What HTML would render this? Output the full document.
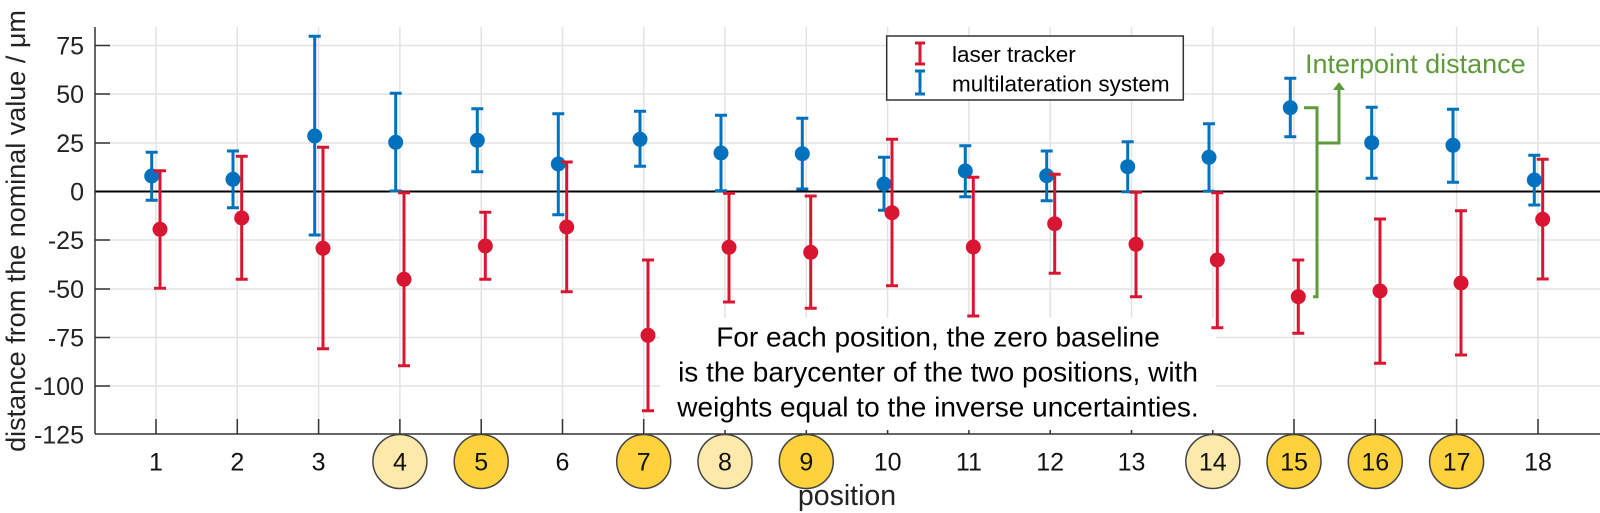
<!DOCTYPE html>
<html><head><meta charset="utf-8"><style>
html,body{margin:0;padding:0;background:#fff;}
svg{display:block;font-family:"Liberation Sans",Arial,sans-serif;}
</style></head><body>
<svg width="1600" height="513" viewBox="0 0 1600 513" xmlns="http://www.w3.org/2000/svg">
<g stroke="#e3e3e3" stroke-width="1.5">
<line x1="95" y1="45.5" x2="1600" y2="45.5"/><line x1="95" y1="94" x2="1600" y2="94"/><line x1="95" y1="143" x2="1600" y2="143"/><line x1="95" y1="240" x2="1600" y2="240"/><line x1="95" y1="289" x2="1600" y2="289"/><line x1="95" y1="337.5" x2="1600" y2="337.5"/><line x1="95" y1="386" x2="1600" y2="386"/>
<line x1="156" y1="27" x2="156" y2="434"/><line x1="237.3" y1="27" x2="237.3" y2="434"/><line x1="318.6" y1="27" x2="318.6" y2="434"/><line x1="399.9" y1="27" x2="399.9" y2="434"/><line x1="481.2" y1="27" x2="481.2" y2="434"/><line x1="562.5" y1="27" x2="562.5" y2="434"/><line x1="643.7" y1="27" x2="643.7" y2="434"/><line x1="725" y1="27" x2="725" y2="434"/><line x1="806.3" y1="27" x2="806.3" y2="434"/><line x1="887.6" y1="27" x2="887.6" y2="434"/><line x1="968.9" y1="27" x2="968.9" y2="434"/><line x1="1050.2" y1="27" x2="1050.2" y2="434"/><line x1="1131.5" y1="27" x2="1131.5" y2="434"/><line x1="1212.8" y1="27" x2="1212.8" y2="434"/><line x1="1294" y1="27" x2="1294" y2="434"/><line x1="1375.3" y1="27" x2="1375.3" y2="434"/><line x1="1456.6" y1="27" x2="1456.6" y2="434"/><line x1="1538" y1="27" x2="1538" y2="434"/>
</g>
<line x1="95" y1="191.5" x2="1600" y2="191.5" stroke="#000" stroke-width="2"/>
<g stroke="#333" stroke-width="1.5" fill="none">
<line x1="95" y1="27" x2="95" y2="434"/><line x1="95" y1="434" x2="1600" y2="434"/>
<path d="M95 45.5h15M95 94h15M95 143h15M95 240h15M95 289h15M95 337.5h15M95 386h15"/>
<path d="M156 434v-15M237.3 434v-15M318.6 434v-15M399.9 434v-15M481.2 434v-15M562.5 434v-15M643.7 434v-15M725 434v-15M806.3 434v-15M887.6 434v-15M968.9 434v-15M1050.2 434v-15M1131.5 434v-15M1212.8 434v-15M1294 434v-15M1375.3 434v-15M1456.6 434v-15M1538 434v-15"/>
</g>
<g font-size="25" fill="#222" text-anchor="end">
<text x="84" y="54.5">75</text><text x="84" y="103">50</text><text x="84" y="152">25</text><text x="84" y="200.5">0</text><text x="84" y="249">-25</text><text x="84" y="298">-50</text><text x="84" y="346.5">-75</text><text x="84" y="395">-100</text><text x="84" y="443.5">-125</text>
</g>
<g stroke="#444" stroke-width="1.5">
<circle cx="399.9" cy="461.5" r="27" fill="#fde9aa"/><circle cx="481.2" cy="461.5" r="27" fill="#fdd23c"/><circle cx="643.7" cy="461.5" r="27" fill="#fdd23c"/><circle cx="725" cy="461.5" r="27" fill="#fde9aa"/><circle cx="806.3" cy="461.5" r="27" fill="#fdd23c"/><circle cx="1212.8" cy="461.5" r="27" fill="#fde9aa"/><circle cx="1294" cy="461.5" r="27" fill="#fdd23c"/><circle cx="1375.3" cy="461.5" r="27" fill="#fdd23c"/><circle cx="1456.6" cy="461.5" r="27" fill="#fdd23c"/>
</g>
<g font-size="25" fill="#111" text-anchor="middle">
<text x="156" y="470.5">1</text><text x="237.3" y="470.5">2</text><text x="318.6" y="470.5">3</text><text x="399.9" y="470.5">4</text><text x="481.2" y="470.5">5</text><text x="562.5" y="470.5">6</text><text x="643.7" y="470.5">7</text><text x="725" y="470.5">8</text><text x="806.3" y="470.5">9</text><text x="887.6" y="470.5">10</text><text x="968.9" y="470.5">11</text><text x="1050.2" y="470.5">12</text><text x="1131.5" y="470.5">13</text><text x="1212.8" y="470.5">14</text><text x="1294" y="470.5">15</text><text x="1375.3" y="470.5">16</text><text x="1456.6" y="470.5">17</text><text x="1538" y="470.5">18</text>
<text x="847" y="505" fill="#222" font-size="28.5">position</text>
<text transform="translate(25,231) rotate(-90)" fill="#222" font-size="27">distance from the nominal value / μm</text>
</g>
<rect x="660" y="318" width="556" height="112" fill="#fff"/>
<g font-size="28" fill="#000" text-anchor="middle">
<text x="938" y="346.5">For each position, the zero baseline</text>
<text x="938" y="381.5">is the barycenter of the two positions, with</text>
<text x="938" y="416.5">weights equal to the inverse uncertainties.</text>
</g>
<g stroke="#0072bd" stroke-width="3" fill="none">
<path d="M151.7 152.3V200.3M145.7 152.3h12M145.7 200.3h12"/>
<path d="M233 151V207.7M227 151h12M227 207.7h12"/>
<path d="M314.7 36.3V235M308.7 36.3h12M308.7 235h12"/>
<path d="M395.7 93.3V191M389.7 93.3h12M389.7 191h12"/>
<path d="M477.3 108.7V171.7M471.3 108.7h12M471.3 171.7h12"/>
<path d="M558.3 113.7V214.7M552.3 113.7h12M552.3 214.7h12"/>
<path d="M640 111.3V166.3M634 111.3h12M634 166.3h12"/>
<path d="M721 115.3V190.7M715 115.3h12M715 190.7h12"/>
<path d="M802.3 118.3V189M796.3 118.3h12M796.3 189h12"/>
<path d="M884 157.3V210.3M878 157.3h12M878 210.3h12"/>
<path d="M965.3 145.7V196.7M959.3 145.7h12M959.3 196.7h12"/>
<path d="M1046.7 151V200.7M1040.7 151h12M1040.7 200.7h12"/>
<path d="M1127.7 141.7V191.7M1121.7 141.7h12M1121.7 191.7h12"/>
<path d="M1209 123.7V191.3M1203 123.7h12M1203 191.3h12"/>
<path d="M1290.3 78.3V136.7M1284.3 78.3h12M1284.3 136.7h12"/>
<path d="M1371.7 107.3V178.3M1365.7 107.3h12M1365.7 178.3h12"/>
<path d="M1453 109.3V182.3M1447 109.3h12M1447 182.3h12"/>
<path d="M1534.3 155.3V205M1528.3 155.3h12M1528.3 205h12"/>
</g>
<g fill="#0072bd">
<circle cx="151.7" cy="176" r="7.5"/><circle cx="233" cy="179.3" r="7.5"/><circle cx="314.7" cy="136" r="7.5"/><circle cx="395.7" cy="142.3" r="7.5"/><circle cx="477.3" cy="140.3" r="7.5"/><circle cx="558.3" cy="164" r="7.5"/><circle cx="640" cy="139.3" r="7.5"/><circle cx="721" cy="153" r="7.5"/><circle cx="802.3" cy="153.7" r="7.5"/><circle cx="884" cy="184" r="7.5"/><circle cx="965.3" cy="171" r="7.5"/><circle cx="1046.7" cy="175.7" r="7.5"/><circle cx="1127.7" cy="166.7" r="7.5"/><circle cx="1209" cy="157.3" r="7.5"/><circle cx="1290.3" cy="107.7" r="7.5"/><circle cx="1371.7" cy="142.7" r="7.5"/><circle cx="1453" cy="145.3" r="7.5"/><circle cx="1534.3" cy="180" r="7.5"/>
</g>
<g stroke="#d81632" stroke-width="3" fill="none">
<path d="M160 170.7V288.3M154 170.7h12M154 288.3h12"/>
<path d="M241.7 156.3V279.3M235.7 156.3h12M235.7 279.3h12"/>
<path d="M323 147.3V348.7M317 147.3h12M317 348.7h12"/>
<path d="M404 192.7V365.7M398 192.7h12M398 365.7h12"/>
<path d="M485.3 212.3V279.3M479.3 212.3h12M479.3 279.3h12"/>
<path d="M566.7 162V291.7M560.7 162h12M560.7 291.7h12"/>
<path d="M648 260V410.7M642 260h12M642 410.7h12"/>
<path d="M729 193.3V302M723 193.3h12M723 302h12"/>
<path d="M810.7 196V308.3M804.7 196h12M804.7 308.3h12"/>
<path d="M892 139.3V285.7M886 139.3h12M886 285.7h12"/>
<path d="M973.3 177.3V316M967.3 177.3h12M967.3 316h12"/>
<path d="M1054.7 174.3V273.3M1048.7 174.3h12M1048.7 273.3h12"/>
<path d="M1136 192.3V296.7M1130 192.3h12M1130 296.7h12"/>
<path d="M1217.3 192.7V327.7M1211.3 192.7h12M1211.3 327.7h12"/>
<path d="M1298.3 260V333.3M1292.3 260h12M1292.3 333.3h12"/>
<path d="M1380 219V363.3M1374 219h12M1374 363.3h12"/>
<path d="M1461 210.7V355M1455 210.7h12M1455 355h12"/>
<path d="M1542.7 159.3V279M1536.7 159.3h12M1536.7 279h12"/>
</g>
<g fill="#d81632">
<circle cx="160" cy="229.3" r="7.5"/><circle cx="241.7" cy="218" r="7.5"/><circle cx="323" cy="248.3" r="7.5"/><circle cx="404" cy="279.3" r="7.5"/><circle cx="485.3" cy="246" r="7.5"/><circle cx="566.7" cy="227" r="7.5"/><circle cx="648" cy="335.3" r="7.5"/><circle cx="729" cy="247.3" r="7.5"/><circle cx="810.7" cy="252.3" r="7.5"/><circle cx="892" cy="212.7" r="7.5"/><circle cx="973.3" cy="247" r="7.5"/><circle cx="1054.7" cy="223.7" r="7.5"/><circle cx="1136" cy="244.3" r="7.5"/><circle cx="1217.3" cy="260" r="7.5"/><circle cx="1298.3" cy="296.7" r="7.5"/><circle cx="1380" cy="291" r="7.5"/><circle cx="1461" cy="283" r="7.5"/><circle cx="1542.7" cy="219.3" r="7.5"/>
</g>
<g stroke="#5e9a3a" stroke-width="3" fill="none">
<path d="M1304 107.7H1317V296.7H1313M1317 143H1339V90"/>
</g>
<polygon points="1333,90 1345,90 1339,82" fill="#5e9a3a"/>
<text x="1305" y="73" font-size="27" fill="#5e9a3a">Interpoint distance</text>
<rect x="886.7" y="36" width="296.6" height="64" fill="#fff" stroke="#333" stroke-width="1.5"/>
<g stroke-width="3" fill="none">
<path d="M920 43V64M915 43h10M915 64h10" stroke="#d81632"/>
<path d="M920 71V94M915 71h10M915 94h10" stroke="#0072bd"/>
</g>
<g font-size="22.5" fill="#000">
<text x="952" y="62">laser tracker</text>
<text x="952" y="91.5">multilateration system</text>
</g>
</svg>
</body></html>
